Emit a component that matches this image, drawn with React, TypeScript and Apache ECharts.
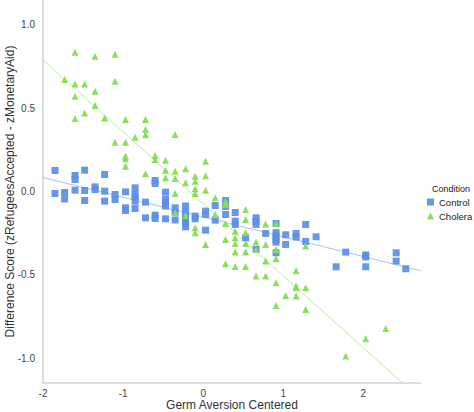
import React, { useEffect, useRef } from "react";
import * as echarts from "echarts";

// Control condition (blue squares)
const controlX = [
  -1.85, -1.85, -1.73, -1.73, -1.6, -1.6, -1.6, -1.48, -1.48, -1.48,
  -1.35, -1.35, -1.23, -1.23, -1.23, -1.1, -1.1, -0.97, -0.97, -0.97,
  -0.85, -0.85, -0.85, -0.85, -0.85, -0.72, -0.72, -0.6, -0.6, -0.6, -0.6,
  -0.47, -0.47, -0.47, -0.47, -0.47, -0.35, -0.35, -0.35,
  -0.22, -0.22, -0.22, -0.22, -0.22, -0.22, -0.1, -0.1,
  0.03, 0.03, 0.03, 0.15, 0.15, 0.28, 0.28, 0.28, 0.4, 0.4, 0.4,
  0.53, 0.66, 0.66, 0.66, 0.66, 0.78, 0.91, 0.91, 0.91, 0.91, 0.91, 0.91,
  1.03, 1.03, 1.16, 1.16, 1.28, 1.28, 1.41, 1.66, 1.78, 2.03, 2.03, 2.03,
  2.41, 2.41, 2.53,
];
const controlY = [
  0.126, -0.012, -0.006, -0.045, 0.096, 0.072, 0.008, 0.128, 0.006, -0.054,
  0.028, 0.012, 0.102, 0.002, -0.058, -0.018, -0.048, -0.002, -0.098, -0.114,
  0.022, -0.018, -0.032, -0.058, -0.102, -0.064, -0.158, 0.066, 0.048, -0.142, -0.162,
  -0.004, -0.048, -0.066, -0.088, -0.164, -0.098, -0.126, -0.171,
  -0.087, -0.118, -0.148, -0.168, -0.192, -0.212, -0.148, -0.164,
  -0.118, -0.138, -0.232, -0.084, -0.172, -0.054, -0.09, -0.138, -0.126, -0.178, -0.198,
  -0.278, -0.158, -0.18, -0.198, -0.348, -0.252, -0.192, -0.248, -0.268, -0.288, -0.304, -0.368,
  -0.26, -0.318, -0.252, -0.274, -0.198, -0.3, -0.272, -0.452, -0.364, -0.381, -0.393, -0.452,
  -0.368, -0.418, -0.464,
];

// Cholera condition (green triangles)
const choleraX = [
  -1.73, -1.6, -1.6, -1.6, -1.6, -1.48, -1.48, -1.35, -1.35, -1.35,
  -1.23, -1.1, -1.1, -1.1, -0.97, -0.97, -0.97, -0.97, -0.97, -0.85,
  -0.72, -0.72, -0.72, -0.72, -0.6, -0.6, -0.47, -0.47, -0.47,
  -0.35, -0.35, -0.35, -0.35, -0.35, -0.22, -0.22, -0.22,
  -0.1, -0.1, -0.1, -0.1, -0.1, -0.1, 0.03, 0.03, 0.03, 0.03,
  0.15, 0.15, 0.28, 0.28, 0.28, 0.28, 0.28, 0.4, 0.4, 0.4, 0.4, 0.4,
  0.53, 0.53, 0.53, 0.53, 0.53, 0.53, 0.66, 0.66, 0.66,
  0.78, 0.78, 0.78, 0.78, 0.91, 0.91, 0.91, 0.91, 0.91, 1.03,
  1.16, 1.16, 1.16, 1.16, 1.28, 1.28, 1.28, 1.78, 2.03, 2.28,
];
const choleraY = [
  0.672, 0.836, 0.646, 0.572, 0.438, 0.646, 0.472, 0.812, 0.602, 0.516,
  0.442, 0.824, 0.662, 0.296, 0.432, 0.296, 0.212, 0.196, 0.152, 0.326,
  0.432, 0.372, 0.342, 0.106, 0.216, 0.192, 0.188, 0.128, 0.082,
  0.342, 0.122, 0.078, -0.012, -0.128, 0.136, 0.052, -0.144,
  0.092, 0.062, 0.016, -0.012, -0.218, -0.248, 0.182, 0.094, 0.008, -0.318,
  -0.038, -0.138, -0.06, -0.078, -0.192, -0.288, -0.434, -0.238, -0.278, -0.312, -0.363, -0.45,
  -0.108, -0.168, -0.246, -0.312, -0.363, -0.45, -0.303, -0.348, -0.508,
  -0.195, -0.318, -0.418, -0.508, -0.192, -0.348, -0.404, -0.548, -0.684, -0.624,
  -0.474, -0.568, -0.578, -0.628, -0.328, -0.578, -0.708, -0.988, -0.884, -0.822,
];

// Fit lines (endpoints as drawn in the figure)
const controlFitX = [-2, 2.72];
const controlFitY = [0.084, -0.476];
const choleraFitX = [-2, 2.49];
const choleraFitY = [0.79, -1.15];

const xTicks = [-2, -1, 0, 1, 2];

const zip = (xs: number[], ys: number[]) => xs.map((x, i) => [x, ys[i]]);

export default function App() {
  const ref = useRef<HTMLDivElement>(null);
  useEffect(() => {
    if (!ref.current) return;
    const chart = echarts.init(ref.current, null, { renderer: "svg" });
    const font = "Liberation Sans, Arial, sans-serif";
    chart.setOption({
      animation: false,
      backgroundColor: "#ffffff",
      textStyle: { fontFamily: font },
      grid: {
        left: 43,
        right: 53,
        top: 0,
        bottom: 29,
        containLabel: false,
        outerBoundsMode: "none",
      },
      xAxis: {
        type: "value",
        min: -2,
        max: 2.72,
        interval: 1,
        name: "Germ Aversion Centered",
        nameLocation: "middle",
        nameGap: 16,
        nameMoveOverlap: false,
        nameTextStyle: { fontSize: 12, color: "#333", fontFamily: font },
        axisLine: { show: true, onZero: false, lineStyle: { color: "#d2d2d2", width: 1.5 } },
        axisTick: { show: false },
        splitLine: { show: false },
        axisLabel: {
          fontSize: 10,
          color: "#444",
          margin: 5,
          showMaxLabel: false,
          formatter: (v: number) => (xTicks.includes(v) ? String(v) : ""),
        },
      },
      yAxis: {
        type: "value",
        min: -1.15,
        max: 1.15,
        name: "Difference Score (zRefugeesAccepted - zMonetaryAid)",
        nameLocation: "middle",
        nameGap: 27,
        nameMoveOverlap: false,
        nameTextStyle: { fontSize: 12, color: "#333", fontFamily: font },
        axisLine: { show: true, onZero: false, lineStyle: { color: "#d2d2d2", width: 1.5 } },
        axisTick: { show: false },
        splitLine: { show: false },
        axisLabel: {
          fontSize: 10,
          color: "#444",
          margin: 8,
          showMinLabel: false,
          showMaxLabel: false,
          formatter: (v: number) => v.toFixed(1),
        },
      },
      legend: {
        data: ["Control", "Cholera"],
        orient: "vertical",
        left: 427,
        top: 197,
        padding: 0,
        itemWidth: 7,
        itemHeight: 7,
        itemGap: 4,
        textStyle: { fontSize: 9.5, color: "#222", fontFamily: font },
      },
      graphic: [
        {
          type: "text",
          left: 432,
          top: 184,
          style: { text: "Condition", fontSize: 9, fill: "#222", fontFamily: font },
        },
      ],
      series: [
        {
          name: "ControlFit",
          type: "line",
          data: zip(controlFitX, controlFitY),
          symbol: "none",
          silent: true,
          lineStyle: { color: "#a9c0ee", width: 1 },
          z: 1,
        },
        {
          name: "CholeraFit",
          type: "line",
          data: zip(choleraFitX, choleraFitY),
          symbol: "none",
          silent: true,
          lineStyle: { color: "#bdeba3", width: 1 },
          z: 1,
        },
        {
          name: "Control",
          type: "scatter",
          symbol: "rect",
          symbolSize: 7,
          data: zip(controlX, controlY),
          itemStyle: { color: "#5b8ee6", opacity: 0.92 },
          z: 3,
        },
        {
          name: "Cholera",
          type: "scatter",
          symbol: "triangle",
          symbolSize: 7,
          data: zip(choleraX, choleraY),
          itemStyle: { color: "#84de55", opacity: 0.95 },
          z: 4,
        },
      ],
    });
    return () => chart.dispose();
  }, []);
  return (
    <div
      ref={ref}
      style={{ position: "fixed", left: 0, top: 0, width: 474, height: 412, background: "#fff" }}
    />
  );
}
